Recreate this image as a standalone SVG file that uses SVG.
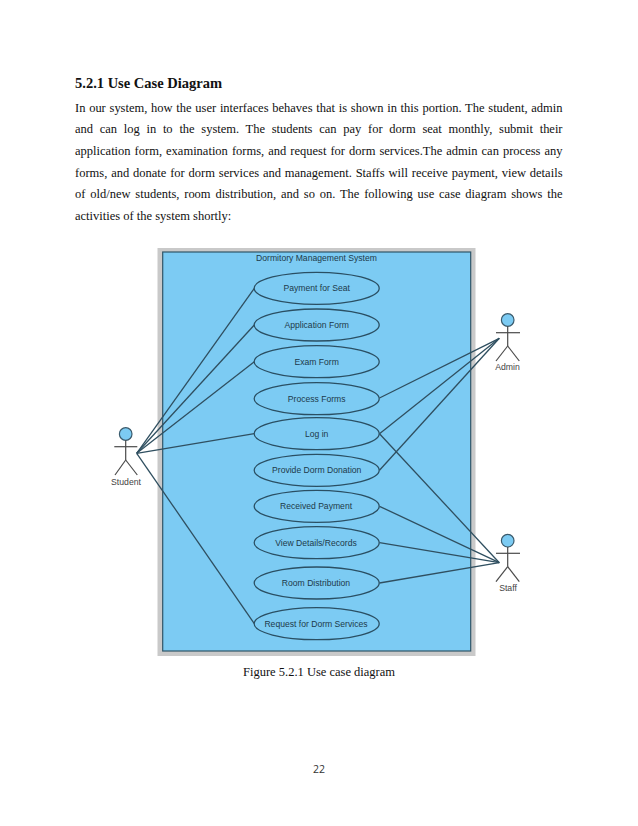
<svg xmlns="http://www.w3.org/2000/svg" width="638" height="826" viewBox="0 0 638 826">
<style>
.t{font-family:"Liberation Serif","Times New Roman",serif;font-size:12.5px;fill:#111}
.h{font-family:"Liberation Serif","Times New Roman",serif;font-size:14.5px;font-weight:bold;fill:#111}
.n{font-family:"Open Sans","Liberation Sans",sans-serif;font-size:10.5px;fill:#333}
.l{font-family:"Liberation Sans",Arial,sans-serif;font-size:8.6px;fill:#1d3a4a;text-anchor:middle}
.a{font-family:"Liberation Sans",Arial,sans-serif;font-size:8.7px;fill:#444;text-anchor:middle}
.u ellipse{fill:#7ccbf3;stroke:#2a4f63;stroke-width:1.3}
.c line{stroke:#2f4f60;stroke-width:1.3}
.p line{stroke:#4a4a4a;stroke-width:1.2}
.p circle{fill:#7ccbf3;stroke:#3a5a6c;stroke-width:1.2}
</style>
<rect width="638" height="826" fill="#fff"/>
<text class="h" x="75" y="88">5.2.1 Use Case Diagram</text>
<text class="t" x="75" y="111.7" word-spacing="0.58" textLength="487.5">In our system, how the user interfaces behaves that is shown in this portion. The student, admin</text>
<text class="t" x="75" y="133.3" word-spacing="3.7" textLength="487.5">and can log in to the system. The students can pay for dorm seat monthly, submit their</text>
<text class="t" x="75" y="155" word-spacing="0.89" textLength="487.5">application form, examination forms, and request for dorm services.The admin can process any</text>
<text class="t" x="75" y="176.7" word-spacing="0.68" textLength="487.5">forms, and donate for dorm services and management. Staffs will receive payment, view details</text>
<text class="t" x="75" y="198.3" word-spacing="1.65" textLength="487.5">of old/new students, room distribution, and so on. The following use case diagram shows the</text>
<text class="t" x="75" y="220">activities of the system shortly:</text>
<g id="system">
<rect x="157.5" y="248" width="318" height="408" fill="#c9c9c9"/>
<rect x="162.7" y="252" width="308" height="399" fill="#7ccbf3" stroke="#2f5568" stroke-width="1.2"/>
<text class="l" x="316.5" y="261">Dormitory Management System</text>
</g>
<g id="connectors" class="c">
<line x1="136.7" y1="453.3" x2="254.3" y2="288.3"/>
<line x1="136.7" y1="453.3" x2="254.3" y2="325"/>
<line x1="136.7" y1="453.3" x2="254.3" y2="361.7"/>
<line x1="136.7" y1="453.3" x2="254.3" y2="433.7"/>
<line x1="136.7" y1="453.3" x2="254.3" y2="623.7"/>
<line x1="379.5" y1="398" x2="499.3" y2="338.3"/>
<line x1="379.5" y1="433.7" x2="499.3" y2="338.3"/>
<line x1="379.5" y1="470.3" x2="499.3" y2="338.3"/>
<line x1="379.5" y1="433.7" x2="499.3" y2="562.7"/>
<line x1="379.5" y1="506.3" x2="499.3" y2="562.7"/>
<line x1="379.5" y1="542.7" x2="499.3" y2="562.7"/>
<line x1="379.5" y1="583" x2="499.3" y2="562.7"/>
</g>
<g id="uc-payment" class="u"><ellipse cx="316.7" cy="288.3" rx="62.5" ry="16"/><text class="l" x="316.7" y="291.3">Payment for Seat</text></g>
<g id="uc-application" class="u"><ellipse cx="316.7" cy="325" rx="62.5" ry="16"/><text class="l" x="316.7" y="328">Application Form</text></g>
<g id="uc-exam" class="u"><ellipse cx="316.7" cy="361.7" rx="62.5" ry="16"/><text class="l" x="316.7" y="364.7">Exam Form</text></g>
<g id="uc-process" class="u"><ellipse cx="316.7" cy="398.7" rx="62.5" ry="16"/><text class="l" x="316.7" y="401.7">Process Forms</text></g>
<g id="uc-login" class="u"><ellipse cx="316.7" cy="433.7" rx="62.5" ry="16"/><text class="l" x="316.7" y="436.7">Log in</text></g>
<g id="uc-donation" class="u"><ellipse cx="316.7" cy="470.3" rx="62.5" ry="16"/><text class="l" x="316.7" y="473.3">Provide Dorm Donation</text></g>
<g id="uc-received" class="u"><ellipse cx="316.7" cy="506.3" rx="62.5" ry="16"/><text class="l" x="316" y="509.3">Received Payment</text></g>
<g id="uc-view" class="u"><ellipse cx="316.7" cy="542.7" rx="62.5" ry="16"/><text class="l" x="316" y="545.7">View Details/Records</text></g>
<g id="uc-room" class="u"><ellipse cx="316.7" cy="583" rx="62.5" ry="16"/><text class="l" x="316" y="586">Room Distribution</text></g>
<g id="uc-request" class="u"><ellipse cx="316.7" cy="623.7" rx="62.5" ry="16"/><text class="l" x="316" y="626.7">Request for Dorm Services</text></g>
<g id="actor-student" class="p">
<circle cx="125.7" cy="434" r="6.3"/><line x1="125.7" y1="440.3" x2="125.7" y2="460"/><line x1="114.3" y1="446.7" x2="137.3" y2="446.7"/><line x1="125.7" y1="460" x2="115" y2="475"/><line x1="125.7" y1="460" x2="137.3" y2="475"/>
<text class="a" x="126" y="484.5">Student</text>
</g>
<g id="actor-admin" class="p">
<circle cx="507.7" cy="320" r="6.3"/><line x1="507.7" y1="326.3" x2="507.7" y2="346"/><line x1="496" y1="332.7" x2="520" y2="332.7"/><line x1="507.7" y1="346" x2="496" y2="361"/><line x1="507.7" y1="346" x2="519.3" y2="361"/>
<text class="a" x="507.5" y="370">Admin</text>
</g>
<g id="actor-staff" class="p">
<circle cx="507.7" cy="540.7" r="6.3"/><line x1="507.7" y1="547" x2="507.7" y2="566.7"/><line x1="496" y1="553.3" x2="520" y2="553.3"/><line x1="507.7" y1="566.7" x2="496" y2="581.7"/><line x1="507.7" y1="566.7" x2="519.3" y2="581.7"/>
<text class="a" x="508" y="590.7">Staff</text>
</g>
<text class="t" x="243" y="676">Figure 5.2.1 Use case diagram</text>
<text class="n" x="313" y="773">22</text>
</svg>
